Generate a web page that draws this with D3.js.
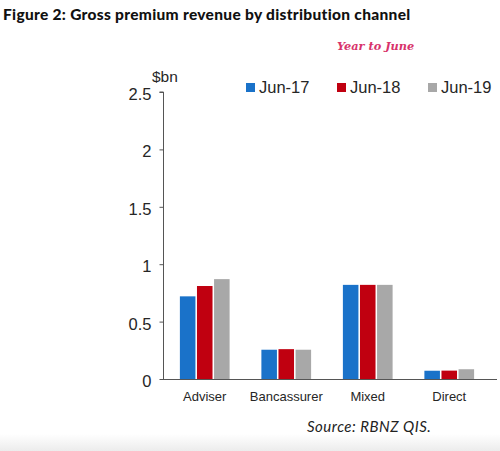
<!DOCTYPE html>
<html>
<head>
<meta charset="utf-8">
<script src="https://cdn.jsdelivr.net/npm/d3@7"></script>
<style>
  body { margin: 0; background: #fff; }
  svg { display: block; }
  text { fill: #262626; }
</style>
</head>
<body>
<div id="chart"></div>
<script>
// data ($bn, year to June)
var channels = ["Adviser", "Bancassurer", "Mixed", "Direct"];
var seriesNames = ["Jun-17", "Jun-18", "Jun-19"];
var jun17 = [0.72, 0.255, 0.82, 0.072];
var jun18 = [0.81, 0.26, 0.82, 0.073];
var jun19 = [0.87, 0.255, 0.82, 0.085];
var yTicks = [0, 0.5, 1, 1.5, 2, 2.5];
var colors = ["#1a72c9", "#c00010", "#a8a8a8"];

var W = 500, H = 451;

var svg = d3.select("#chart").append("svg")
    .attr("width", W)
    .attr("height", H);

// faint grey band at the bottom of the image
var defs = svg.append("defs");
var grad = defs.append("linearGradient")
    .attr("id", "fade")
    .attr("x1", 0).attr("y1", 0).attr("x2", 0).attr("y2", 1);
grad.append("stop").attr("offset", "0%").attr("stop-color", "#ffffff");
grad.append("stop").attr("offset", "100%").attr("stop-color", "#ececec");
svg.append("rect")
    .attr("x", 0).attr("y", 434)
    .attr("width", W).attr("height", H - 434)
    .attr("fill", "url(#fade)");

// title
svg.append("text")
    .attr("x", 3)
    .attr("y", 20)
    .style("font-family", "Lato, 'Noto Sans', sans-serif")
    .style("font-weight", "900")
    .style("font-size", "15.5px")
    .style("letter-spacing", "0.3px")
    .style("fill", "#111")
    .text("Figure 2: Gross premium revenue by distribution channel");

svg.append("text")
    .attr("x", 337)
    .attr("y", 50)
    .style("font-family", "'DejaVu Serif', 'Liberation Serif', serif")
    .style("font-weight", "bold")
    .style("font-style", "italic")
    .style("font-size", "11.3px")
    .style("fill", "#d8336b")
    .text("Year to June");

// scales
var x0 = d3.scaleBand()
    .domain(channels)
    .range([164, 490])
    .paddingInner(0.39)
    .paddingOuter(0.195);

var x1 = d3.scaleBand()
    .domain(seriesNames)
    .range([0, x0.bandwidth()])
    .paddingInner(0.09);

var y = d3.scaleLinear()
    .domain([0, 2.5])
    .range([379, 92]);

var rows = channels.map(function(c, i) {
    return {channel: c, values: [jun17[i], jun18[i], jun19[i]]};
});

// bars
var groups = svg.append("g").selectAll("g")
    .data(rows)
    .enter().append("g")
    .attr("transform", function(d) { return "translate(" + x0(d.channel) + ",0)"; });

groups.selectAll("rect")
    .data(function(d) {
        return d.values.map(function(v, j) { return {name: seriesNames[j], value: v, j: j}; });
    })
    .enter().append("rect")
    .attr("x", function(d) { return x1(d.name); })
    .attr("y", function(d) { return y(d.value); })
    .attr("width", x1.bandwidth())
    .attr("height", function(d) { return y(0) - y(d.value); })
    .attr("fill", function(d) { return colors[d.j]; });

// y axis
var yAxis = svg.append("g")
    .attr("transform", "translate(163.5,0)")
    .call(d3.axisLeft(y).tickValues(yTicks).tickSize(4).tickPadding(8)
        .tickFormat(function(d) { return String(d); }));
yAxis.select(".domain").attr("d", "M-4," + y(2.5) + "H0V" + y(0));
yAxis.selectAll("line, path").attr("stroke", "#555");
yAxis.selectAll("text")
    .style("font-family", "'Liberation Sans', Arial, sans-serif")
    .style("font-size", "16.5px")
    .attr("dy", "0.45em");

// x axis
var xAxis = svg.append("g")
    .attr("transform", "translate(0," + (y(0) + 0.5) + ")")
    .call(d3.axisBottom(x0).tickSize(0).tickPadding(12));
xAxis.select(".domain").attr("d", "M163,0H497").attr("stroke", "#555");
xAxis.selectAll("text")
    .style("font-family", "'Liberation Sans', Arial, sans-serif")
    .style("font-size", "13px");

// unit label
svg.append("text")
    .attr("x", 152)
    .attr("y", 82)
    .style("font-family", "'Liberation Sans', Arial, sans-serif")
    .style("font-size", "15.5px")
    .text("$bn");

// legend
var legend = svg.append("g").selectAll("g")
    .data(seriesNames)
    .enter().append("g")
    .attr("transform", function(d, i) { return "translate(" + (246 + i * 91) + ",83)"; });

legend.append("rect")
    .attr("width", 9)
    .attr("height", 9)
    .attr("fill", function(d, i) { return colors[i]; });

legend.append("text")
    .attr("x", 13)
    .attr("y", 10)
    .style("font-family", "'Liberation Sans', Arial, sans-serif")
    .style("font-size", "16.5px")
    .text(function(d) { return d; });

// source
svg.append("text")
    .attr("x", 307)
    .attr("y", 432)
    .style("font-family", "Lato, 'Noto Sans', sans-serif")
    .style("font-style", "italic")
    .style("font-size", "15px")
    .style("letter-spacing", "0.5px")
    .style("fill", "#222")
    .text("Source: RBNZ QIS.");
</script>
</body>
</html>
